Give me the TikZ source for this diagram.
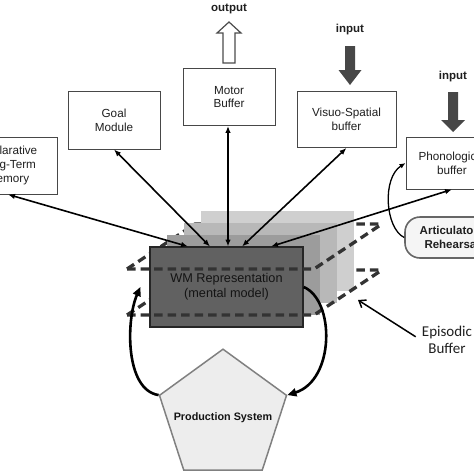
\documentclass[tikz,border=0pt]{standalone}
\usepackage{fontspec}
\setmainfont{Liberation Sans}
\newfontfamily\calib{Carlito}
\usetikzlibrary{arrows.meta,shapes.geometric,calc}
\begin{document}
\begin{tikzpicture}[x=1pt,y=-1pt,
  modbox/.style={draw=black!72,line width=0.9pt,fill=white,align=center,
    font=\fontsize{11.7pt}{13.7pt}\selectfont,text=black!88,inner sep=0pt},
  dlink/.style={line width=1.6pt,{Latex[length=7pt,width=5.5pt]}-{Latex[length=7pt,width=5.5pt]}},
  dashplane/.style={draw=black!80,line width=3.3pt,dash pattern=on 8.5pt off 5pt},
  stackbox/.style={minimum width=153pt,minimum height=80pt,inner sep=0pt},
  cyclearrow/.style={line width=2.6pt,-{Triangle[length=9pt,width=8pt]}},
  inarrow/.style={fill=black!72},
  lbl/.style={font=\bfseries\fontsize{11.5pt}{13pt}\selectfont,text=black!88,inner sep=1pt}
]
\useasboundingbox (0,0) rectangle (474,474);

% module boxes
\node[modbox,minimum width=98pt,minimum height=57pt] (dlt) at (8,165.5) {Declarative\\Long-Term\\Memory};
\node[modbox,minimum width=92pt,minimum height=58pt] (goal) at (114,120) {Goal\\Module};
\node[modbox,minimum width=92pt,minimum height=57pt] (motor) at (229,97) {Motor\\Buffer};
\node[modbox,minimum width=99pt,minimum height=56pt] (vs) at (346.5,119.5) {Visuo-Spatial\\buffer};
\node[modbox,minimum width=92pt,minimum height=52pt] (phono) at (452,163) {Phonological\\buffer};
\node[modbox,minimum width=94pt,minimum height=41pt,rounded corners=15pt,draw=black!60,
  line width=1.6pt,fill=black!4,font=\bfseries\fontsize{11.5pt}{13.5pt}\selectfont] (art) at (452,237.5) {Articulatory\\Rehearsal};

% input / output labels and block arrows
\node[lbl] (outl) at (229,9) {output};
\node[lbl] (in1) at (350,30) {input};
\node[lbl] (in2) at (453,77) {input};
\draw[draw=black!70,line width=1.2pt,fill=white] (223,63) -- (235,63) -- (235,33) -- (241,33) -- (229,22) -- (217,33) -- (223,33) -- cycle;
\fill[inarrow] (345,46) -- (355,46) -- (355,70) -- (361.5,70) -- (350,85) -- (338.5,70) -- (345,70) -- cycle;
\fill[inarrow] (448,92) -- (458,92) -- (458,120) -- (465,120) -- (453,132) -- (441,120) -- (448,120) -- cycle;

% dashed planes (coordinates)
\coordinate (p1a) at (127,269); \coordinate (p1b) at (314,269);
\coordinate (p1c) at (382,224); \coordinate (p1d) at (195,224);
\coordinate (p2a) at (127,315); \coordinate (p2b) at (314,315);
\coordinate (p2c) at (382,270); \coordinate (p2d) at (195,270);
\draw[dashplane] (p1a) -- (p1d) -- (p1c);
\draw[dashplane] (p2a) -- (p2d) -- (p2c);

% stacked layers and WM box
\node[stackbox,fill=black!19] (l3) at (277.5,251) {};
\node[stackbox,fill=black!28] (l2) at (260.5,263) {};
\node[stackbox,fill=black!39] (l1) at (243.5,275) {};
\node[stackbox,fill=black!62,draw=black!85,line width=1.3pt,align=center,text=black!92,
  font=\fontsize{12.7pt}{15pt}\selectfont] (wm) at (226.5,287) {WM Representation\\(mental model)};

\draw[dashplane] (p1a) -- (p1b) -- (p1c);
\draw[dashplane] (p2a) -- (p2b) -- (p2c);

% connectors to WM
\coordinate (w1) at (188,246.5);
\coordinate (w2) at (210,246.5);
\coordinate (w3) at (228,246.5);
\coordinate (w4) at (242,246.5);
\coordinate (w5) at (271,246.5);
\draw[dlink] (dlt.south) -- (w1);
\draw[dlink] (goal.south) -- (w2);
\draw[dlink] (motor.south -| w3) -- (w3);
\draw[dlink] (vs.south) -- (w4);
\draw[dlink] (phono.south) -- (w5);

% articulatory rehearsal loop
\draw[line width=1.3pt,-{Latex[length=6pt,width=5pt]}] (art.west) .. controls (385,228) and (382,178) .. (phono.west);

% production system
\node[regular polygon,regular polygon sides=5,minimum size=133.6pt,inner sep=0pt,
  draw=black!50,line width=1.5pt,fill=black!7] (ps) at (223,416) {};
\node[font=\bfseries\fontsize{10.8pt}{12pt}\selectfont,text=black!92] (pst) at (223,418) {Production System};

\draw[cyclearrow] (ps.corner 2) .. controls (125,390) and (126,320) .. ([xshift=-9pt]wm.west);
\draw[cyclearrow] (wm.east) .. controls (335,300) and (335,380) .. (ps.corner 5);

% episodic buffer
\node[font=\calib\fontsize{15pt}{17pt}\selectfont,align=center,text=black!88,inner sep=1pt] (eb) at (447,340) {Episodic\\Buffer};
\coordinate (ebtip) at (358,300);
\draw[line width=1.5pt,shorten <=6pt,-{Straight Barb[length=6pt,width=9pt]}] (eb.west) -- (ebtip);
\end{tikzpicture}
\end{document}
